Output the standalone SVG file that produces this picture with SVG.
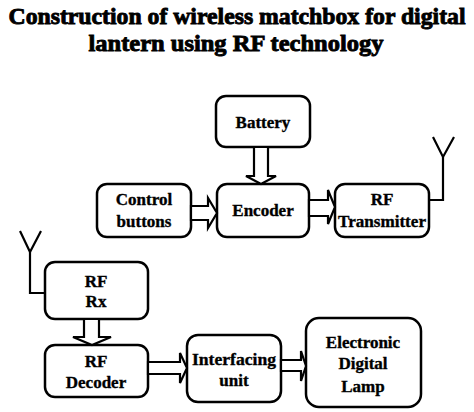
<svg xmlns="http://www.w3.org/2000/svg" width="474" height="412" viewBox="0 0 474 412">
<style>
.box{fill:#fff;stroke:#000;stroke-width:2.5}
.arr{fill:#fff;stroke:#000;stroke-width:2.2;stroke-linejoin:miter}
.ant{fill:none;stroke:#000;stroke-width:2.2}
.t{font-family:"Liberation Serif","Times New Roman",serif;font-weight:bold;font-size:17px;text-anchor:middle;fill:#000;stroke:#000;stroke-width:0.35}
.title{font-family:"Liberation Serif","Times New Roman",serif;font-weight:bold;font-size:24px;text-anchor:middle;fill:#000;stroke:#000;stroke-width:0.9}
</style>
<rect width="474" height="412" fill="#fff"/>
<g id="title">
<text class="title" x="237" y="24" textLength="457" lengthAdjust="spacingAndGlyphs">Construction of wireless matchbox for digital</text>
<text class="title" x="236" y="51" textLength="295" lengthAdjust="spacingAndGlyphs">lantern using RF technology</text>
</g>
<g id="battery">
<rect class="box" x="216" y="96" width="94" height="51" rx="10"/>
<text class="t" x="263" y="128">Battery</text>
</g>
<g id="control">
<rect class="box" x="97" y="184" width="94" height="53" rx="10"/>
<text class="t" x="144" y="205">Control</text>
<text class="t" x="144" y="227">buttons</text>
</g>
<g id="encoder">
<rect class="box" x="217" y="184" width="92" height="53" rx="10"/>
<text class="t" x="263" y="216">Encoder</text>
</g>
<g id="rftx">
<rect class="box" x="335" y="184" width="94" height="53" rx="10"/>
<text class="t" x="382" y="205">RF</text>
<text class="t" x="382" y="227" textLength="88" lengthAdjust="spacingAndGlyphs">Transmitter</text>
</g>
<g id="rfrx">
<rect class="box" x="45" y="262" width="103" height="57" rx="10"/>
<text class="t" x="96" y="287">RF</text>
<text class="t" x="96" y="307">Rx</text>
</g>
<g id="decoder">
<rect class="box" x="45" y="345" width="103" height="52" rx="10"/>
<text class="t" x="96" y="367">RF</text>
<text class="t" x="96" y="388">Decoder</text>
</g>
<g id="interfacing">
<rect class="box" x="187" y="335" width="94" height="67" rx="11"/>
<text class="t" x="234" y="365" textLength="84" lengthAdjust="spacingAndGlyphs">Interfacing</text>
<text class="t" x="234" y="386">unit</text>
</g>
<g id="lamp">
<rect class="box" x="306" y="318" width="115" height="89" rx="13"/>
<text class="t" x="363" y="348">Electronic</text>
<text class="t" x="363" y="369">Digital</text>
<text class="t" x="363" y="392">Lamp</text>
</g>
<g id="connectors">
<polygon class="arr" points="191,206 208,206 208,198 217,213 208,228 208,220 191,220"/>
<polygon class="arr" points="254,147 254,176 246,176 261,184 276,176 268,176 268,147"/>
<polygon class="arr" points="309,200 328,200 328,190 335,207 328,224 328,216 309,216"/>
<polygon class="arr" points="84,319 84,337 73,337 92,345 111,337 99,337 99,319"/>
<polygon class="arr" points="148,362 180,362 180,353 187,368 180,383 180,374 148,374"/>
<polygon class="arr" points="281,360 301,360 301,351 306,366 301,381 301,371 281,371"/>
<polyline class="ant" points="429,200 443,200 443,157"/>
<polyline class="ant" points="433,137 443,157 454,137"/>
<polyline class="ant" points="45,293 30,293 30,252"/>
<polyline class="ant" points="20,231 30,252 41,231"/>
</g>
</svg>
